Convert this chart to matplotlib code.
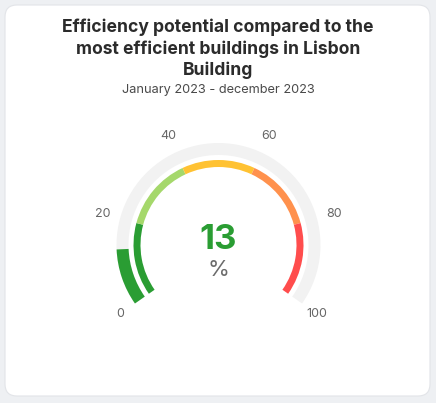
import numpy as np
import matplotlib.pyplot as plt
from matplotlib.patches import Wedge, FancyBboxPatch

# chart data
title = "Efficiency potential compared to the\nmost efficient buildings in Lisbon\nBuilding"
subtitle = "January 2023 - december 2023"
value = 13
unit = "%"
band_edges = [0, 20, 40, 60, 80, 100]
band_colors = ["#2a9d33", "#a5d86b", "#ffc233", "#ff914d", "#ff4d4d"]
tick_values = [0, 20, 40, 60, 80, 100]

W, H = 436, 403
fig = plt.figure(figsize=(W / 100, H / 100), dpi=100)
fig.patch.set_facecolor("#eef0f3")
ax = fig.add_axes([0, 0, 1, 1])
ax.set_xlim(0, W)
ax.set_ylim(0, H)
ax.axis("off")

plt.rcParams['font.family'] = ['Inter', 'DejaVu Sans']


def py(y):
    # pixel row (from top) -> data y
    return H - y


# white card
card = FancyBboxPatch((5, py(396)), 425, 391, boxstyle="round,pad=0,rounding_size=12",
                      facecolor="white", edgecolor="#e2e4e8", linewidth=0.8)
ax.add_patch(card)

ax.text(218, py(49), title, ha="center", va="center", fontsize=12.6,
        fontweight="bold", color="#2b2b2b", linespacing=1.3)
ax.text(218, py(90), subtitle, ha="center", va="center", fontsize=9.2, color="#4a4a4a")

cx, cy = 218.5, py(245)
start, sweep = 215, 250


def ang(v):
    return start - sweep * v / 100


# background track
ax.add_patch(Wedge((cx, cy), 102, ang(100), ang(0), width=12, facecolor="#f2f2f2", edgecolor="none"))
# value arc
ax.add_patch(Wedge((cx, cy), 102, ang(value), ang(0), width=12, facecolor=band_colors[0], edgecolor="none"))
# colour bands
for i, c in enumerate(band_colors):
    ax.add_patch(Wedge((cx, cy), 85, ang(band_edges[i + 1]), ang(band_edges[i]), width=7,
                       facecolor=c, edgecolor="none"))

for t in tick_values:
    a = np.radians(ang(t))
    ax.text(cx + 120 * np.cos(a), cy + 120 * np.sin(a), str(t), ha="center", va="center",
            fontsize=9, color="#666666")

ax.text(cx, py(240), str(value), ha="center", va="center", fontsize=25,
        fontweight="bold", color="#2a9d33")
ax.text(cx, py(270), unit, ha="center", va="center", fontsize=16, color="#6b6b6b")

fig.savefig("out.png", dpi=100, facecolor=fig.get_facecolor())
